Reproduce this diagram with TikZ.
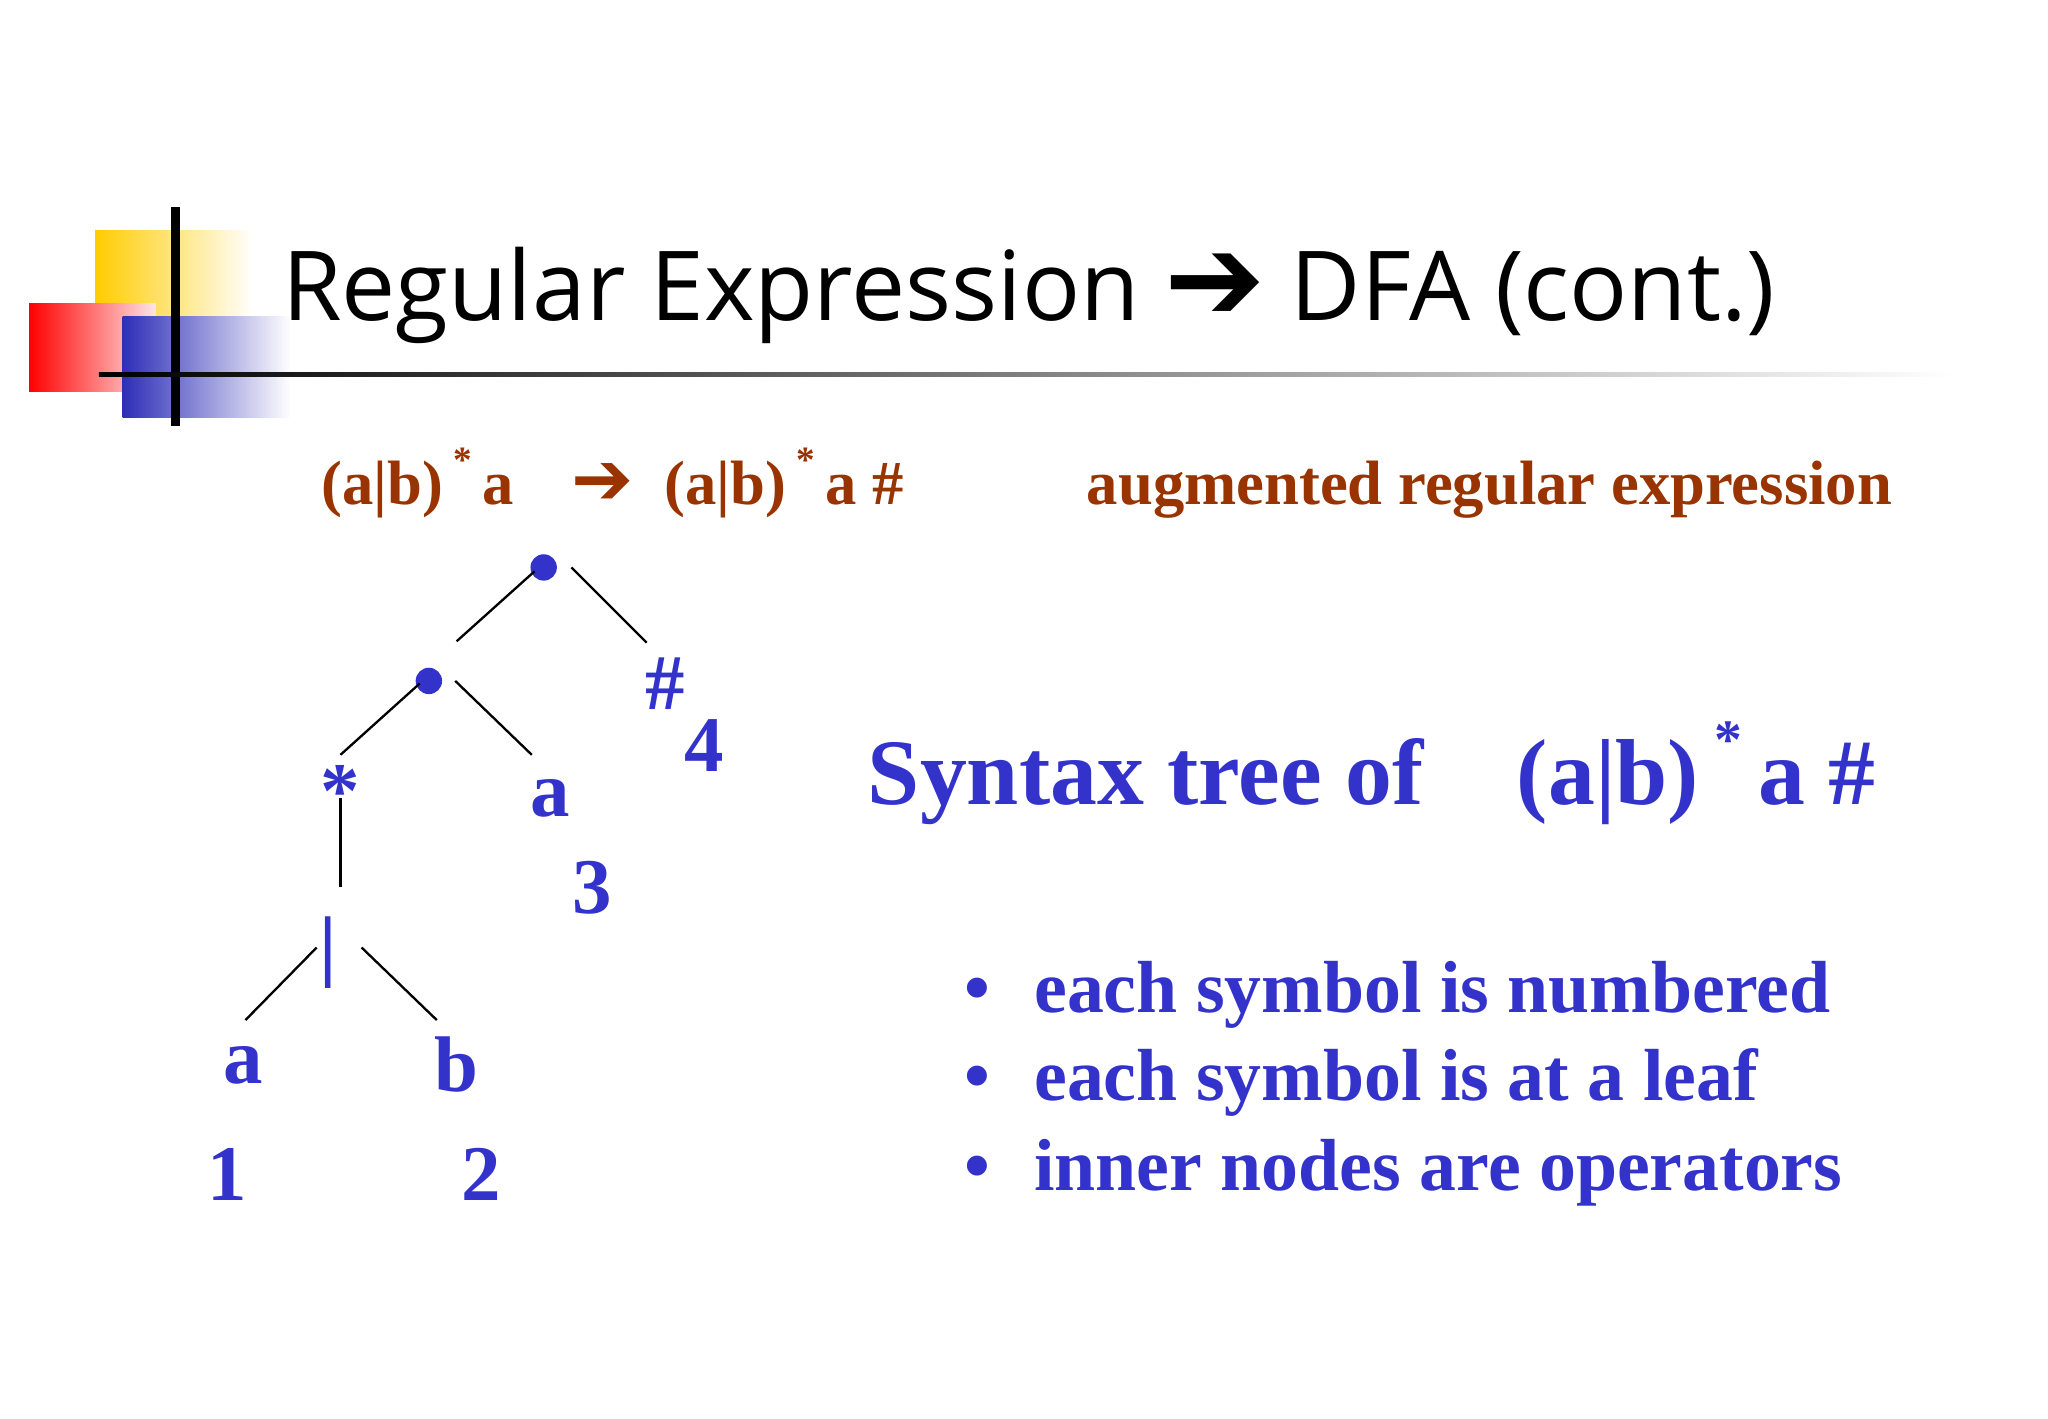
\documentclass[tikz,border=0pt]{standalone}
\usepackage{fontspec}
\setmainfont{Liberation Serif}
\newfontfamily\titlefont{Open Sans}
\newfontfamily\symfont{DejaVu Sans}
\begin{document}
\begin{tikzpicture}[x=0.01cm,y=-0.01cm,
  tl/.style={text=blueC, font=\bfseries\fontsize{17}{19}\selectfont, inner sep=0},
  edge/.style={line width=0.5pt}]
\definecolor{blueC}{HTML}{3333CC}
\definecolor{brownC}{HTML}{993300}
\definecolor{goldC}{HTML}{FFCC00}
\tikzset{br/.style={text=brownC, font=\bfseries\fontsize{13.5}{15}\selectfont, anchor=base west, inner sep=0}}
\useasboundingbox (0,0) rectangle (1552,1075);
% logo
\shade[left color=goldC, right color=white] (72,175) rectangle (192,290);
\shade[left color=red, right color=red!10] (22,230) rectangle (118,297);
\shade[left color=blueC!90!black, right color=white] (93,240) rectangle (220,316);
\draw[line width=2pt] (133,157) -- (133,323);
\shade[left color=black, right color=white] (75,282.5) rectangle (1480,285.5);
\node[anchor=base west, inner sep=0, font=\titlefont\fontsize{20.8}{24}\selectfont] (title) at (213,243) {Regular Expression {\symfont\bfseries\fontsize{26}{26}\selectfont ➔} DFA (cont.)};
% brown line
\node[br] (r1) at (243,382) {(a|b)\,\raisebox{0.5em}{\fontsize{8}{9}\selectfont *}\,a};
\node[br] (arr) at (432,382) {\symfont\fontsize{16}{16}\selectfont ➔};
\node[br] (r2) at (503,382) {(a|b)\,\raisebox{0.5em}{\fontsize{8}{9}\selectfont *}\,a \#};
\node[br] (aug) at (823,382) {augmented regular expression};
% tree
\fill[blueC] (412,430) circle (10) node (d1) {};
\fill[blueC] (325,516) circle (10) node (d2) {};
\node[tl] (hash) at (504,518) {\#};
\node[tl] (n4) at (534,565) {4};
\node[tl] (star) at (258,600) {*};
\node[tl] (a3) at (417,605) {a};
\node[tl] (n3) at (449,673) {3};
\node[tl] (bar) at (249,722) {|};
\node[tl] (a1) at (184,807) {a};
\node[tl] (b2) at (346,807) {b};
\node[tl] (n1) at (172,890) {1};
\node[tl] (n2) at (365,890) {2};
\coordinate (e1a) at (405,433); \coordinate (e1b) at (346,486);
\coordinate (e2a) at (433,430); \coordinate (e2b) at (490,487);
\coordinate (e3a) at (318,518); \coordinate (e3b) at (258,572);
\coordinate (e4a) at (345,516); \coordinate (e4b) at (403,572);
\coordinate (e5a) at (258,605); \coordinate (e5b) at (258,672);
\coordinate (e6a) at (240,718); \coordinate (e6b) at (186,773);
\coordinate (e7a) at (274,718); \coordinate (e7b) at (331,773);
\foreach \p in {1,...,7} \draw[edge] (e\p a) -- (e\p b);
% right text
\node[anchor=base west, inner sep=0, text=blueC, font=\bfseries\fontsize{20.2}{24}\selectfont] (syn) at (657,610) {Syntax tree of\quad (a|b)\,\raisebox{0.5em}{\fontsize{12}{13}\selectfont *}\,a \#};
\foreach \t/\y [count=\i] in {each symbol is numbered/767, each symbol is at a leaf/834, inner nodes are operators/902}{
  \node[anchor=base west, inner sep=0, text=blueC, font=\bfseries\fontsize{15.9}{19}\selectfont] (b\i) at (730,\y) {\textbullet\hspace{0.6em}\t};
}
\end{tikzpicture}
\end{document}
